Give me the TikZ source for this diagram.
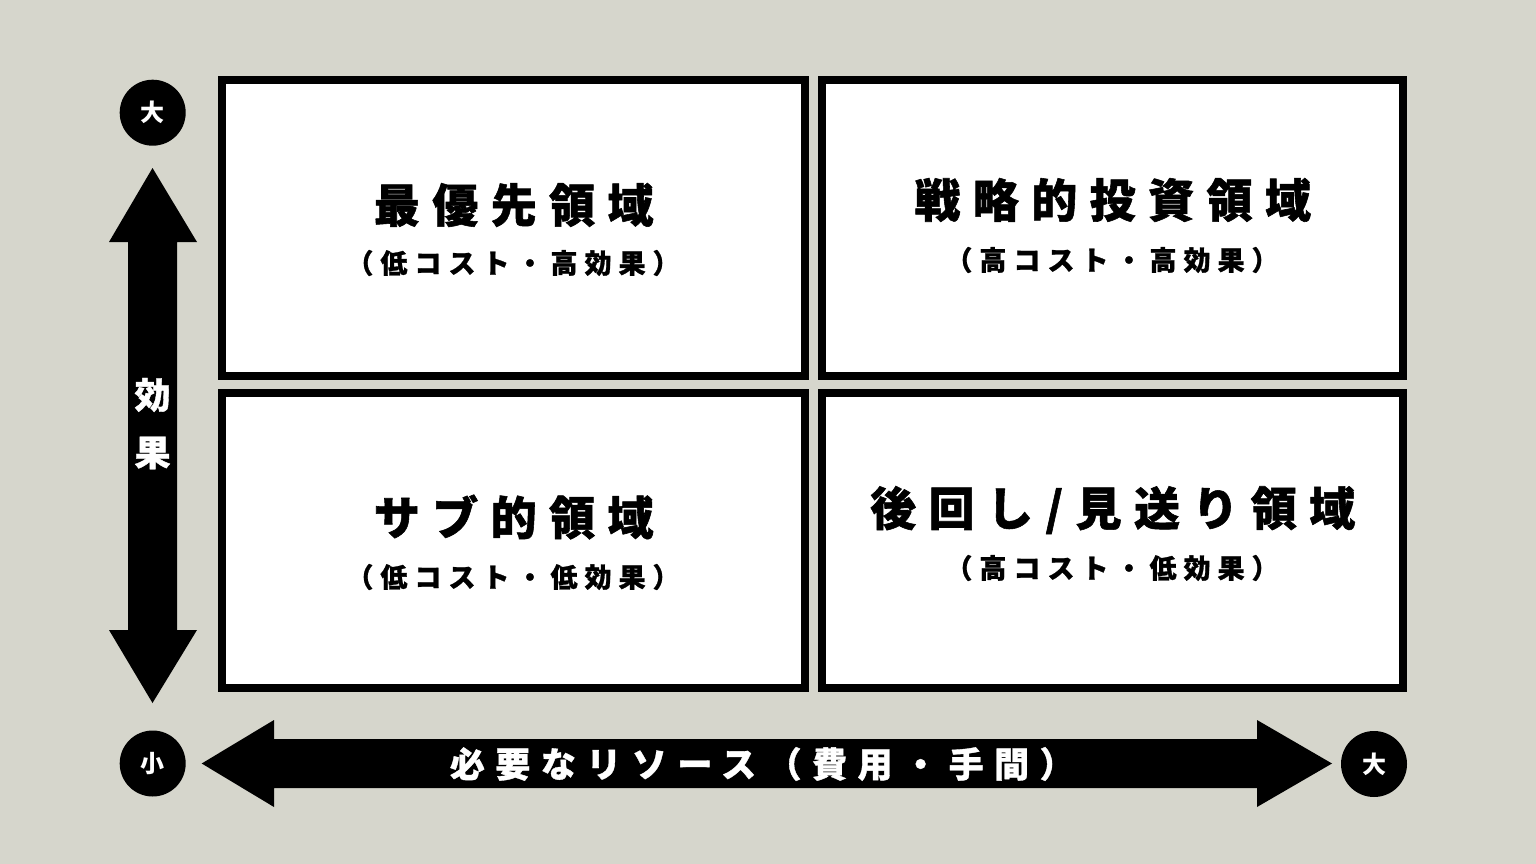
\documentclass[tikz,border=0pt]{standalone}
\usepackage{fontspec}
\newfontfamily\jpA{Noto Sans CJK JP}[LetterSpace=27, BoldFeatures={FakeBold=1.2}]
\newfontfamily\jpB{Noto Sans CJK JP}[LetterSpace=26, BoldFeatures={FakeBold=1}]
\newfontfamily\jpD{Noto Sans CJK JP}[LetterSpace=30, BoldFeatures={FakeBold=1}]
\newfontfamily\jpC{Noto Sans CJK JP}[BoldFeatures={FakeBold=1}]
\newfontfamily\jpE{Noto Sans CJK JP}
\definecolor{bg}{RGB}{214,214,204}
\tikzset{
  quad/.style={draw=black, line width=8pt, fill=white, inner sep=0pt},
  ttl/.style={font=\jpA\bfseries\fontsize{46}{46}\selectfont, text=black, inner sep=0pt},
  sub/.style={font=\jpB\bfseries\fontsize{27}{27}\selectfont, text=black, inner sep=0pt},
  circ/.style={circle, fill=black, minimum size=66pt, inner sep=0pt, text=white, font=\jpE\bfseries\fontsize{24}{24}\selectfont},
  axis/.style={fill=black},
  axtxt/.style={text=white, inner sep=0pt, font=\jpD\bfseries\fontsize{35}{35}\selectfont},
  vtxt/.style={text=white, inner sep=0pt, font=\jpC\bfseries\fontsize{36}{36}\selectfont},
}
\begin{document}
\begin{tikzpicture}[x=1pt, y=-1pt]
\useasboundingbox (0,0) rectangle (1536,864);
\fill[bg] (0,0) rectangle (1536,864);
% quadrants
\node[quad, minimum width=583pt, minimum height=296pt] (tl) at (513.5,228) {};
\node[quad, minimum width=581pt, minimum height=296pt] (tr) at (1112.5,228) {};
\node[quad, minimum width=583pt, minimum height=295pt] (bl) at (513.5,540.5) {};
\node[quad, minimum width=581pt, minimum height=295pt] (br) at (1112.5,540.5) {};
% texts
\node[ttl] (tlT) at (507.5,205) {最優先領域\kern-.27em};
\node[sub] (tlS) at (509.5,263) {（低コスト・高効果）\kern-.26em};
\node[ttl] (trT) at (1106.5,200) {戦略的投資領域\kern-.27em};
\node[sub] (trS) at (1108.5,260) {（高コスト・高効果）\kern-.26em};
\node[ttl] (blT) at (507.5,517) {サブ的領域\kern-.27em};
\node[sub] (blS) at (509.5,577) {（低コスト・低効果）\kern-.26em};
\node[ttl] (brT) at (1106.5,510) {後回し/見送り領域\kern-.27em};
\node[sub] (brS) at (1108.5,568) {（高コスト・低効果）\kern-.26em};
% vertical axis
\fill[axis] (152.5,168) -- (197,242) -- (177,242) -- (177,630) -- (197,630) -- (152.5,703)
  -- (109,630) -- (128,630) -- (128,242) -- (109,242) -- cycle;
\node[vtxt] (eff1) at (152.5,395) {効};
\node[vtxt] (eff2) at (152.5,453) {果};
% horizontal axis
\fill[axis] (201.7,763.5) -- (274,720) -- (274,739) -- (1257,739) -- (1257,720) -- (1332,763.5)
  -- (1257,807) -- (1257,788) -- (274,788) -- (274,807) -- cycle;
\node[axtxt] (res) at (757,764) {必要なリソース（費用・手間）\kern-.30em};
% circles
\node[circ] (bigY) at (152.7,112.7) {大};
\node[circ] (small) at (152.7,763.5) {小};
\node[circ] (bigX) at (1374,764) {大};
\end{tikzpicture}
\end{document}
